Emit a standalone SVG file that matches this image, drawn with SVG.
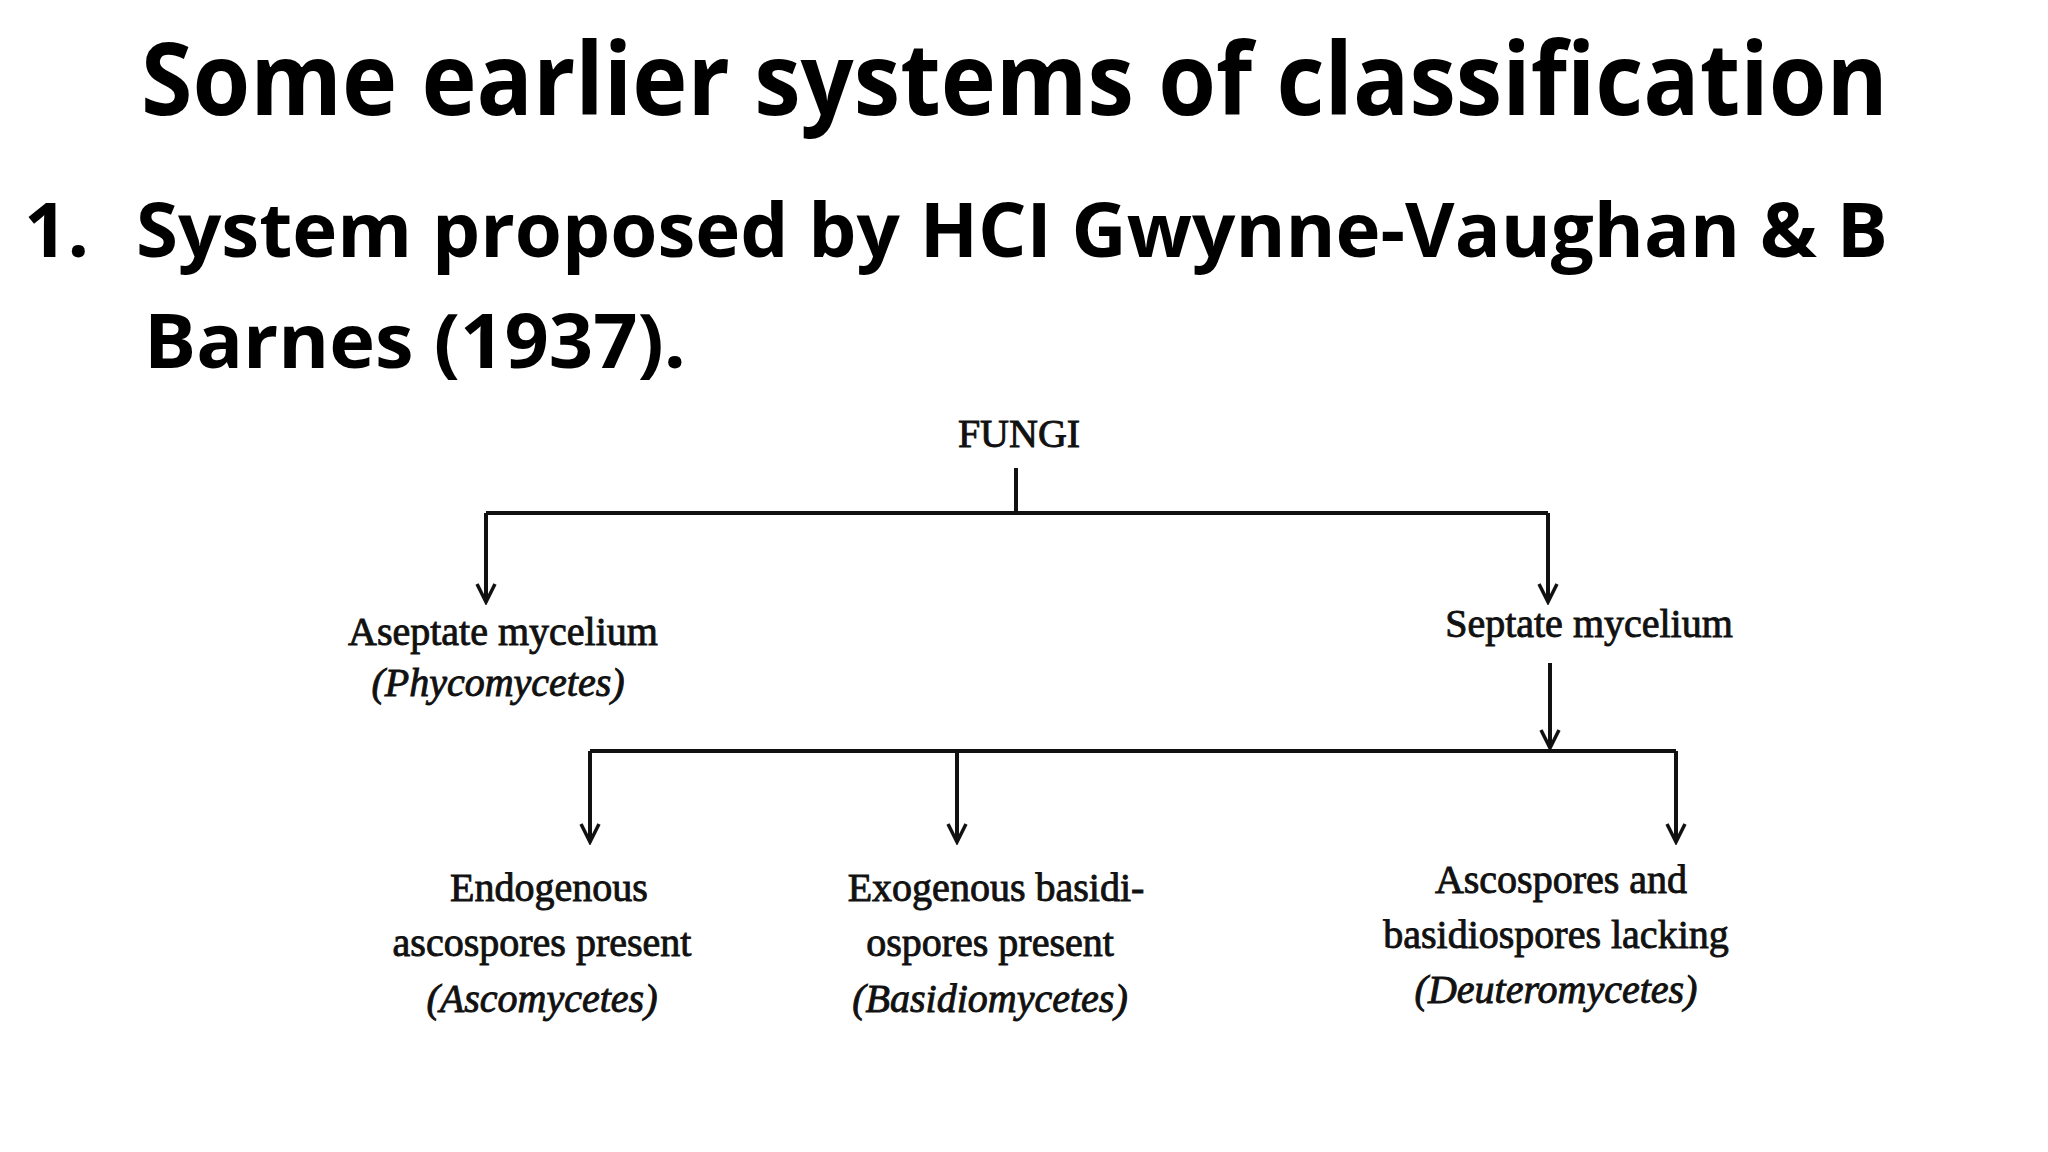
<svg xmlns="http://www.w3.org/2000/svg" width="2048" height="1152" viewBox="0 0 2048 1152">
<style>
.h{font-family:"Open Sans","Liberation Sans",sans-serif;font-weight:bold;fill:#000}
.t{font-family:"Liberation Serif",serif;font-size:40px;fill:#111;stroke:#111;stroke-width:0.9;text-anchor:middle}
.i{font-style:italic}
.c{stroke:#111;stroke-width:4;fill:none}
</style>
<defs><marker id="a" viewBox="0 0 24 24" refX="21" refY="12" markerWidth="24" markerHeight="24" markerUnits="userSpaceOnUse" orient="auto"><path d="M3 3 L21 12 L3 21" fill="none" stroke="#111" stroke-width="3.5"/></marker></defs>
<rect width="2048" height="1152" fill="#fff"/>
<text class="h" x="141" y="115" font-size="100" textLength="1747" lengthAdjust="spacingAndGlyphs">Some earlier systems of classification</text>
<text class="h" x="24" y="257" font-size="76">1.</text>
<text class="h" x="136" y="257" font-size="76" textLength="1752" lengthAdjust="spacingAndGlyphs">System proposed by HCI Gwynne-Vaughan &amp; B</text>
<text class="h" x="144" y="368" font-size="76" textLength="542" lengthAdjust="spacingAndGlyphs">Barnes (1937).</text>
<g id="connectors">
<path class="c" d="M1016 468 V513 M486 513 H1548"/>
<path class="c" d="M486 513 V602" marker-end="url(#a)"/>
<path class="c" d="M1548 513 V602" marker-end="url(#a)"/>
<path class="c" d="M1550 663 V748" marker-end="url(#a)"/>
<path class="c" d="M590 751 H1676"/>
<path class="c" d="M590 751 V842" marker-end="url(#a)"/>
<path class="c" d="M957 751 V842" marker-end="url(#a)"/>
<path class="c" d="M1676 751 V842" marker-end="url(#a)"/>
</g>
<g id="fungi"><text class="t" x="1019" y="447">FUNGI</text></g>
<g id="aseptate"><text class="t" x="503" y="645">Aseptate mycelium</text><text class="t i" x="498" y="696">(Phycomycetes)</text></g>
<g id="septate"><text class="t" x="1589" y="637">Septate mycelium</text></g>
<g id="asco"><text class="t" x="549" y="901">Endogenous</text><text class="t" x="542" y="956">ascospores present</text><text class="t i" x="542" y="1012">(Ascomycetes)</text></g>
<g id="basidio"><text class="t" x="996" y="901">Exogenous basidi-</text><text class="t" x="990" y="956">ospores present</text><text class="t i" x="990" y="1012">(Basidiomycetes)</text></g>
<g id="deutero"><text class="t" x="1561" y="893">Ascospores and</text><text class="t" x="1556" y="948">basidiospores lacking</text><text class="t i" x="1556" y="1003">(Deuteromycetes)</text></g>
</svg>
